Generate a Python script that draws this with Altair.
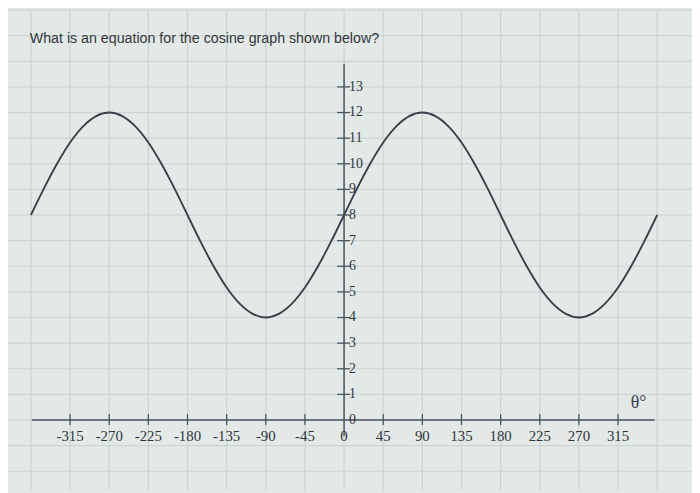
import altair as alt
import pandas as pd

# ---- data ----
theta_deg = [-360, -345, -330, -315, -300, -285, -270, -255, -240, -225, -210, -195,
             -180, -165, -150, -135, -120, -105, -90, -75, -60, -45, -30, -15,
             0, 15, 30, 45, 60, 75, 90, 105, 120, 135, 150, 165,
             180, 195, 210, 225, 240, 255, 270, 285, 300, 315, 330, 345, 360]
y_vals = [8.0, 9.04, 10.0, 10.83, 11.46, 11.86, 12.0, 11.86, 11.46, 10.83, 10.0, 9.04,
          8.0, 6.96, 6.0, 5.17, 4.54, 4.14, 4.0, 4.14, 4.54, 5.17, 6.0, 6.96,
          8.0, 9.04, 10.0, 10.83, 11.46, 11.86, 12.0, 11.86, 11.46, 10.83, 10.0, 9.04,
          8.0, 6.96, 6.0, 5.17, 4.54, 4.14, 4.0, 4.14, 4.54, 5.17, 6.0, 6.96, 8.0]

x_tick_vals = [-315, -270, -225, -180, -135, -90, -45, 45, 90, 135, 180, 225, 270, 315]
x_label_vals = [-315, -270, -225, -180, -135, -90, -45, 0, 45, 90, 135, 180, 225, 270, 315]
x_label_text = ["-315", "-270", "-225", "-180", "-135", "-90", "-45", "0",
                "45", "90", "135", "180", "225", "270", "315"]
y_tick_vals = [1, 2, 3, 4, 5, 6, 7, 8, 9, 10, 11, 12, 13]
y_label_vals = [0, 1, 2, 3, 4, 5, 6, 7, 8, 9, 10, 11, 12, 13]

grid_x = [-405, -360, -315, -270, -225, -180, -135, -90, -45, 0, 45, 90, 135,
          180, 225, 270, 315, 360, 405]
grid_y = [-2, -1, 0, 1, 2, 3, 4, 5, 6, 7, 8, 9, 10, 11, 12, 13, 14, 15, 16]

question = "What is an equation for the cosine graph shown below?"
axis_name = "\u03b8\u00b0"

# ---- scales ----
W, H = 692, 485
xs = alt.Scale(domain=[-360, 360], range=[23.2, 656.8], nice=False, zero=False)
ys = alt.Scale(domain=[0, 13], range=[414, 77], nice=False, zero=False)

ink = "#3a3f48"
axis_col = "#4b5561"
label_col = "#2f343d"
grid_col = "#cad5d4"

curve_df = pd.DataFrame({"theta": theta_deg, "y": y_vals})

grid_v = alt.Chart(pd.DataFrame({"gx": grid_x})).mark_rule(
    color=grid_col, strokeWidth=1.2
).encode(x=alt.X("gx:Q", scale=xs, axis=None), y=alt.value(0), y2=alt.value(H))

grid_h = alt.Chart(pd.DataFrame({"gy": grid_y})).mark_rule(
    color=grid_col, strokeWidth=1.2
).encode(y=alt.Y("gy:Q", scale=ys, axis=None), x=alt.value(0), x2=alt.value(W))

x_axis = alt.Chart(pd.DataFrame({"a": [-359], "b": [357], "z": [0]})).mark_rule(
    color=axis_col, strokeWidth=1.5
).encode(x=alt.X("a:Q", scale=xs, axis=None), x2="b:Q",
         y=alt.Y("z:Q", scale=ys, axis=None))

y_axis = alt.Chart(pd.DataFrame({"a": [-0.62], "b": [13.9], "z": [0]})).mark_rule(
    color=axis_col, strokeWidth=1.5
).encode(y=alt.Y("a:Q", scale=ys, axis=None), y2="b:Q",
         x=alt.X("z:Q", scale=xs, axis=None))

x_ticks = alt.Chart(pd.DataFrame({"t": x_tick_vals, "z": [0] * len(x_tick_vals)})).mark_rule(
    color=axis_col, strokeWidth=1.3, yOffset=-6, y2Offset=5
).encode(x=alt.X("t:Q", scale=xs, axis=None),
         y=alt.Y("z:Q", scale=ys, axis=None), y2="z:Q")

y_ticks = alt.Chart(pd.DataFrame({"t": y_tick_vals, "z": [0] * len(y_tick_vals)})).mark_rule(
    color=axis_col, strokeWidth=1.3, xOffset=-7, x2Offset=6
).encode(y=alt.Y("t:Q", scale=ys, axis=None),
         x=alt.X("z:Q", scale=xs, axis=None), x2="z:Q")

x_labels = alt.Chart(pd.DataFrame({"v": x_label_vals, "s": x_label_text})).mark_text(
    font="Liberation Serif", fontSize=15, color=label_col, align="center", baseline="middle"
).encode(x=alt.X("v:Q", scale=xs, axis=None), y=alt.value(430), text="s:N")

y_labels = alt.Chart(pd.DataFrame({"v": y_label_vals, "z": [0] * len(y_label_vals)})).mark_text(
    font="Liberation Serif", fontSize=14, color=label_col, align="left", baseline="middle", dx=5
).encode(y=alt.Y("v:Q", scale=ys, axis=None),
         x=alt.X("z:Q", scale=xs, axis=None), text="v:Q")

curve = alt.Chart(curve_df).mark_line(
    color=ink, strokeWidth=1.9, interpolate="monotone"
).encode(x=alt.X("theta:Q", scale=xs, axis=None), y=alt.Y("y:Q", scale=ys, axis=None))

title_txt = alt.Chart(pd.DataFrame({"s": [question]})).mark_text(
    font="Liberation Sans", fontSize=14.4, color="#33363d", align="left", baseline="alphabetic"
).encode(x=alt.value(22), y=alt.value(33), text="s:N")

theta_txt = alt.Chart(pd.DataFrame({"s": [axis_name]})).mark_text(
    font="Liberation Serif", fontSize=18, color="#3a4050", align="left", baseline="middle"
).encode(x=alt.value(630), y=alt.value(397), text="s:N")

chart = alt.layer(
    grid_v, grid_h, x_axis, y_axis, x_ticks, y_ticks, x_labels, y_labels,
    curve, title_txt, theta_txt
).properties(
    width=W, height=H, autosize=alt.AutoSizeParams(type="none"), padding=0,
    background="#e3e9e6"
).configure_view(stroke=None)

chart.save("out.html", embed_options={"renderer": "svg", "actions": False})
